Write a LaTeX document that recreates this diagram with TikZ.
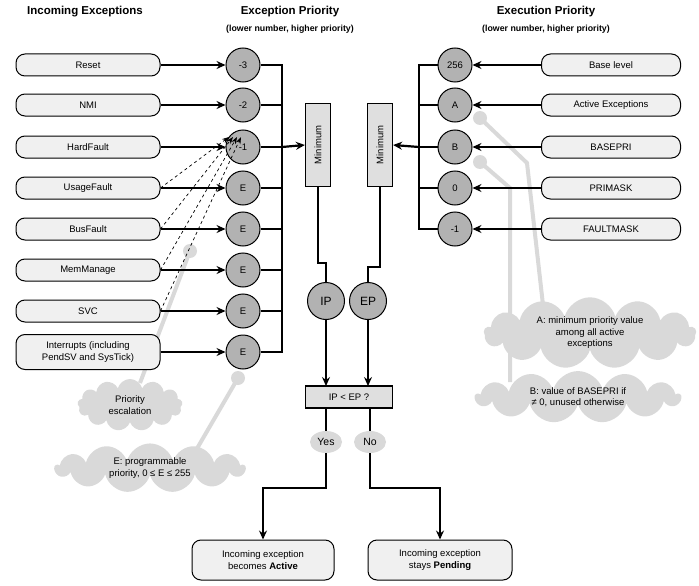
\documentclass[tikz,border=0pt]{standalone}
\usepackage{fontspec}
\setmainfont{Liberation Sans}
\usetikzlibrary{shapes.symbols,shapes.geometric,arrows.meta}
\begin{document}
\begin{tikzpicture}[x=1pt,y=-1pt,font=\fontsize{9.5}{11.5}\selectfont,
 pill/.style={draw,rounded corners=9pt,fill=gray!12,minimum width=144pt,minimum height=22pt,align=center,line width=1pt},
 circ/.style={draw,circle,fill=gray!60,minimum size=34pt,inner sep=0pt,line width=1pt},
 big/.style={draw,circle,fill=gray!60,minimum size=37pt,inner sep=0pt,font=\fontsize{12}{14}\selectfont,line width=1pt},
 box/.style={draw,fill=gray!25,line width=1.2pt},
 ln/.style={line width=1.4pt},
 arr/.style={ln,-{Stealth[length=9pt,width=8pt,inset=3pt]}},
 dsh/.style={dashed,-{Stealth[length=7pt,width=5pt]},line width=0.7pt},
 cl/.style={cloud,cloud puffs=13,cloud ignores aspect,fill=gray!30,align=center,inner sep=0pt},
 gl/.style={gray!30,line width=4pt},
 dot/.style={circle,fill=gray!30,minimum size=14pt,inner sep=0pt}]
\useasboundingbox (0,0) rectangle (699,586);
\node[font=\bfseries\fontsize{11.5}{13}\selectfont] (t1) at (85,12) {Incoming Exceptions};
\node[font=\bfseries\fontsize{11.5}{13}\selectfont] (t2) at (290,12) {Exception Priority};
\node[font=\bfseries\fontsize{8.8}{10}\selectfont] (t3) at (290,29) {(lower number, higher priority)};
\node[font=\bfseries\fontsize{11.5}{13}\selectfont] (t4) at (546,12) {Execution Priority};
\node[font=\bfseries\fontsize{8.8}{10}\selectfont] (t5) at (546,29) {(lower number, higher priority)};
% gray callouts
\node[dot] (d1) at (190,251) {};
\node[dot] (d2) at (238,378) {};
\node[dot] (d3) at (480,118) {};
\node[dot] (d4) at (480,162) {};
\draw[gl] (d1.center) -- (140,383);
\draw[gl] (d2.center) -- (195,452);
\draw[gl] (d3.center) -- (527,163) -- (543,305);
\draw[gl] (d4.center) -- (510,188) -- (510,382);
\node[cl,minimum width=105pt,minimum height=52pt] (c1) at (130,405) {Priority\\escalation};
\node[cl,minimum width=190pt,minimum height=48pt] (c2) at (150,468) {E: programmable\\priority, 0 ≤ E ≤ 255};
\node[cl,minimum width=212pt,minimum height=64pt] (c3) at (590,333) {A: minimum priority value\\among all active\\exceptions};
\node[cl,minimum width=205pt,minimum height=48pt] (c4) at (578,397) {B: value of BASEPRI if\\≠ 0, unused otherwise};
% left side
\foreach \n/\t/\c/\y in {1/Reset/-3/65,2/NMI/-2/105,3/HardFault/-1/147,4/UsageFault/E/188,5/BusFault/E/229,6/MemManage/E/270,7/SVC/E/311}{
  \node[pill] (l\n) at (88,\y) {\t};
  \node[circ] (e\n) at (243,\y) {\c};
  \draw[arr] (l\n) -- (e\n);
  \draw[ln] (e\n) -- (282,\y);
}
\node[pill,minimum height=35pt] (l8) at (88,352) {Interrupts (including\\PendSV and SysTick)};
\node[circ] (e8) at (243,352) {E};
\draw[arr] (l8) -- (e8);
\draw[ln] (e8) -- (282,352);
\draw[ln] (282,64.3) -- (282,352.7);
\foreach \n/\dx in {4/-14,5/-10,6/-6,7/-2}{
  \draw[dsh] (l\n.east) -- ([xshift=\dx pt,yshift=10pt]e3.center);
}
\node[box,minimum width=25pt,minimum height=83pt] (m1) at (318,145) {};
\node[rotate=90] at (m1) {Minimum};
\draw[arr,line width=2.2pt] (282,147) -- (m1.west);
% right side
\foreach \n/\t/\c/\y in {1/Base level/256/65,2/Active Exceptions/A/105,3/BASEPRI/B/147,4/PRIMASK/0/188,5/FAULTMASK/-1/229}{
  \node[pill,minimum width=139pt] (r\n) at (611,\y) {\t};
  \node[circ] (x\n) at (455,\y) {\c};
  \draw[arr] (r\n) -- (x\n);
  \draw[ln] (x\n) -- (419,\y);
}
\draw[ln] (419,64.3) -- (419,229.7);
\node[box,minimum width=25pt,minimum height=83pt] (m2) at (380,145) {};
\node[rotate=90] at (m2) {Minimum};
\draw[arr,line width=2.2pt] (419,147) -- (m2.east);
% middle
\node[big] (ip) at (326,301) {IP};
\node[big] (ep) at (368,301) {EP};
\draw[ln] (m1.south) -- (318,263) -- (326,263) -- (ip.north);
\draw[ln] (m2.south) -- (380,267) -- (368,267) -- (ep.north);
\node[box,minimum width=87pt,minimum height=22pt] (cmp) at (349,397) {IP < EP ?};
\draw[arr] (ip.south) -- (326,386);
\draw[arr] (ep.south) -- (368,386);
\node[ellipse,fill=gray!30,minimum width=32pt,minimum height=22pt,inner sep=0pt,font=\fontsize{10.5}{12}\selectfont] (yes) at (326,442) {Yes};
\node[ellipse,fill=gray!30,minimum width=32pt,minimum height=22pt,inner sep=0pt,font=\fontsize{10.5}{12}\selectfont] (no) at (370,442) {No};
\draw[ln] (326,408) -- (yes.north);
\draw[ln] (370,408) -- (no.north);
\node[pill,minimum width=142pt,minimum height=40pt] (o1) at (263,560) {Incoming exception\\becomes \textbf{Active}};
\node[pill,minimum width=144pt,minimum height=40pt] (o2) at (440,560) {Incoming exception\\stays \textbf{Pending}};
\draw[arr] (yes.south) -- (326,488) -- (263,488) -- (o1.north);
\draw[arr] (no.south) -- (370,488) -- (440,488) -- (o2.north);
\end{tikzpicture}
\end{document}
